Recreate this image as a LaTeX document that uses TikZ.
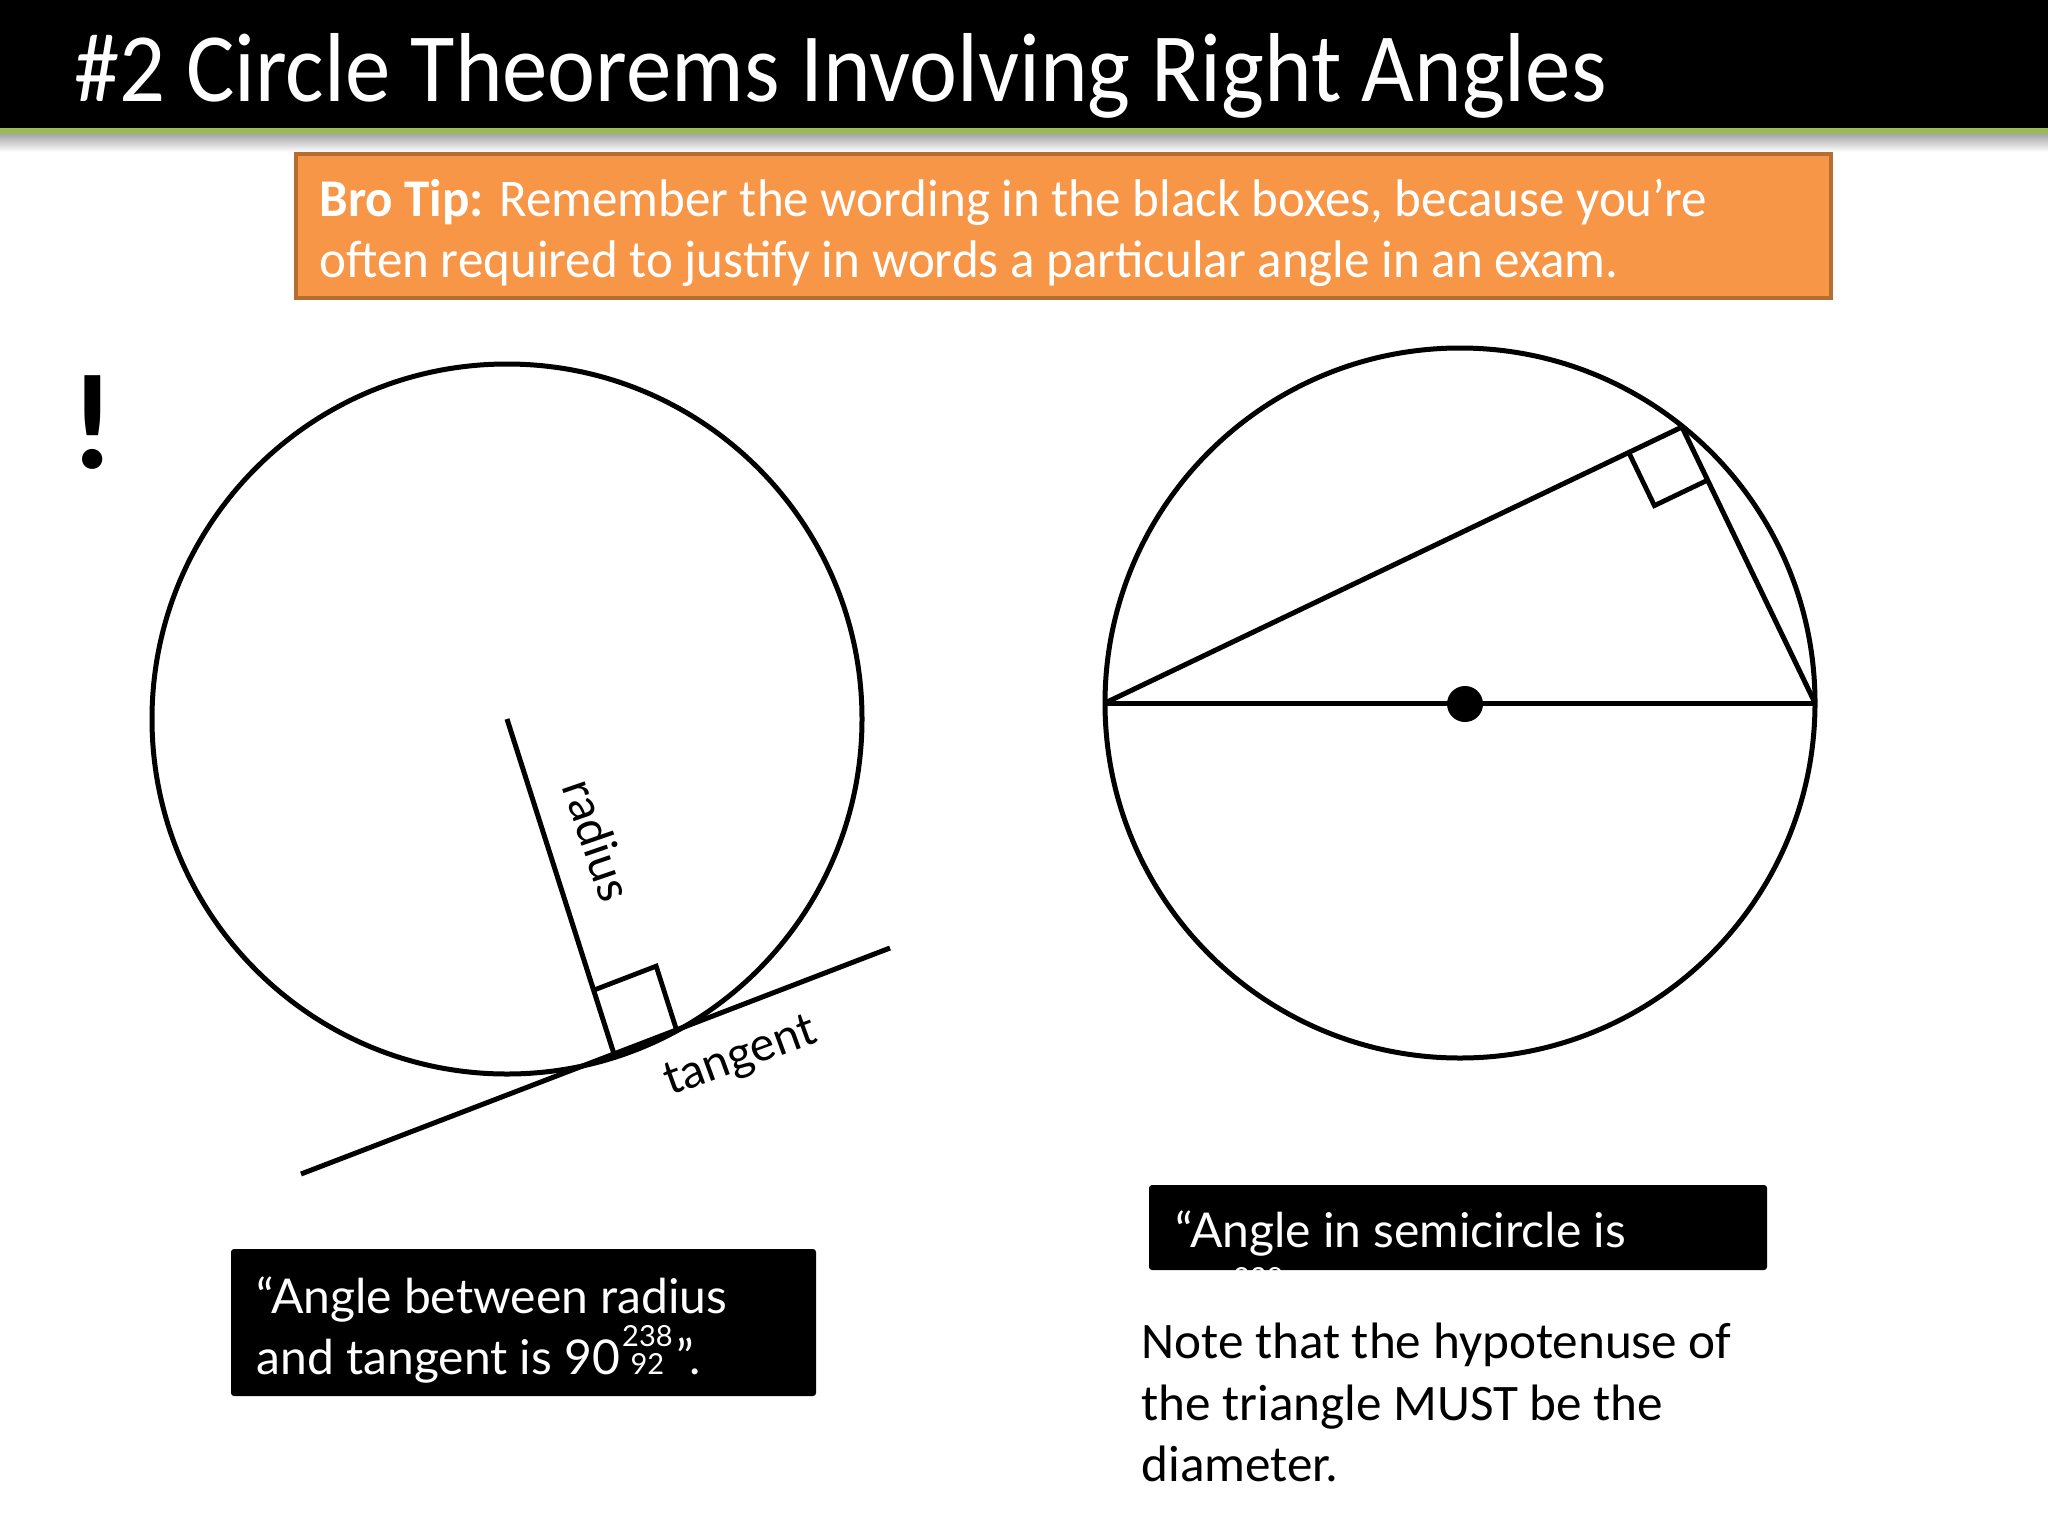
\documentclass[tikz,border=0pt]{standalone}
\usepackage{fontspec}
\usepackage{graphicx}
\setmainfont{Carlito}
\newfontfamily\latofont{Lato}
\usetikzlibrary{calc}
\definecolor{tiporange}{HTML}{F79646}
\definecolor{tipborder}{HTML}{B66D31}
\definecolor{titlegreen}{HTML}{9BBB59}
\newcommand\isostack[2]{\kern1pt{\fontsize{14.5pt}{17pt}\selectfont\shortstack{#1\\#2}}\kern2pt}
\tikzset{
  geo/.style={line width=2.5pt},
  sq/.style={line width=2.4pt},
  blackbox/.style={fill=black, rounded corners=1.5pt, inner sep=0pt},
  boxtext/.style={text=white, anchor=base west, inner sep=0pt, font=\latofont\fontsize{24pt}{30pt}\selectfont},
  tiptext/.style={text=white, anchor=base west, inner sep=0pt, font=\fontsize{26.5pt}{31pt}\selectfont},
  notetext/.style={text=black, anchor=base west, inner sep=0pt, font=\fontsize{25.6pt}{30pt}\selectfont},
  lbl/.style={inner sep=0pt, font=\latofont\fontsize{23.5pt}{27pt}\selectfont},
}
\begin{document}
\begin{tikzpicture}[x=0.5pt,y=-0.5pt]
\useasboundingbox (0,0) rectangle (2048,1536);
% title bar
\fill[black] (0,0) rectangle (2048,128);
\fill[titlegreen] (0,128) rectangle (2048,134);
\shade[top color=black!35, bottom color=white] (0,134) rectangle (2048,152);
\node[anchor=base west, inner sep=0pt, text=white, font=\fontsize{49pt}{58pt}\selectfont] (title) at (74,102) {\scalebox{0.927}[1]{\#2 Circle Theorems Involving Right Angles}};
% tip box
\node[fill=tiporange, draw=tipborder, line width=2pt, minimum width=767.5pt, minimum height=72pt, inner sep=0pt] (tipbox) at (1063.5,226) {};
\node[tiptext] (tip1) at (319,216) {\scalebox{0.963}[1]{\textbf{Bro Tip:} Remember the wording in the black boxes, because you’re}};
\node[tiptext] (tip2) at (319,277) {\scalebox{0.963}[1]{often required to justify in words a particular angle in an exam.}};
% exclamation
\node[anchor=base, inner sep=0pt, font=\bfseries\fontsize{68pt}{80pt}\selectfont] (excl) at (93,468) {!};
% left diagram
\coordinate (O1) at (507,719);
\coordinate (T) at (614,1054);
\coordinate (TL) at (301,1174);
\coordinate (TR) at (890,948);
\draw[geo] (O1) circle[radius=177.5pt];
\draw[geo] (O1) -- (T);
\draw[geo] (TL) -- (TR);
\coordinate (SA) at ($(T)!33.5pt!(O1)$);
\coordinate (SC) at ($(T)!33.5pt!(TR)$);
\coordinate (SB) at ($(SA)+(SC)-(T)$);
\draw[sq] (SA) -- (SB) -- (SC);
\node[lbl, rotate=-71] (radlbl) at (598,840) {radius};
\node[lbl, rotate=20] (tanlbl) at (741,1058) {tangent};
% left black box
\node[blackbox, minimum width=292.5pt, minimum height=73.5pt] (box1) at (523.5,1322.5) {};
\node[boxtext] (b1l1) at (256,1313) {“Angle between radius};
\node[boxtext] (b1l2) at (256,1374) {and tangent is 90\isostack{238}{92}”.};
% right diagram
\coordinate (O2) at (1460,703);
\coordinate (L) at (1105,703);
\coordinate (R) at (1815,703);
\coordinate (P) at (1682,427);
\draw[geo] (O2) circle[radius=177.5pt];
\draw[geo] (L) -- (R);
\draw[geo, line join=miter] (L) -- (P) -- (R);
\coordinate (Q1) at ($(P)!29.5pt!(L)$);
\coordinate (Q3) at ($(P)!29.5pt!(R)$);
\coordinate (Q2) at ($(Q1)+(Q3)-(P)$);
\draw[sq] (Q1) -- (Q2) -- (Q3);
\fill[black] (1465,704) circle[radius=9pt];
% right black box
\node[blackbox, minimum width=309pt, minimum height=42.5pt] (box2) at (1458,1227.5) {};
\node[boxtext] (b2l1) at (1175,1247) {“Angle in semicircle is};
\node[boxtext] (b2l2) at (1175,1316) {90\isostack{238}{92}”.};
% note
\node[notetext] (n1) at (1141,1358) {Note that the hypotenuse of};
\node[notetext] (n2) at (1141,1420) {the triangle MUST be the};
\node[notetext] (n3) at (1141,1481) {diameter.};
\end{tikzpicture}
\end{document}
